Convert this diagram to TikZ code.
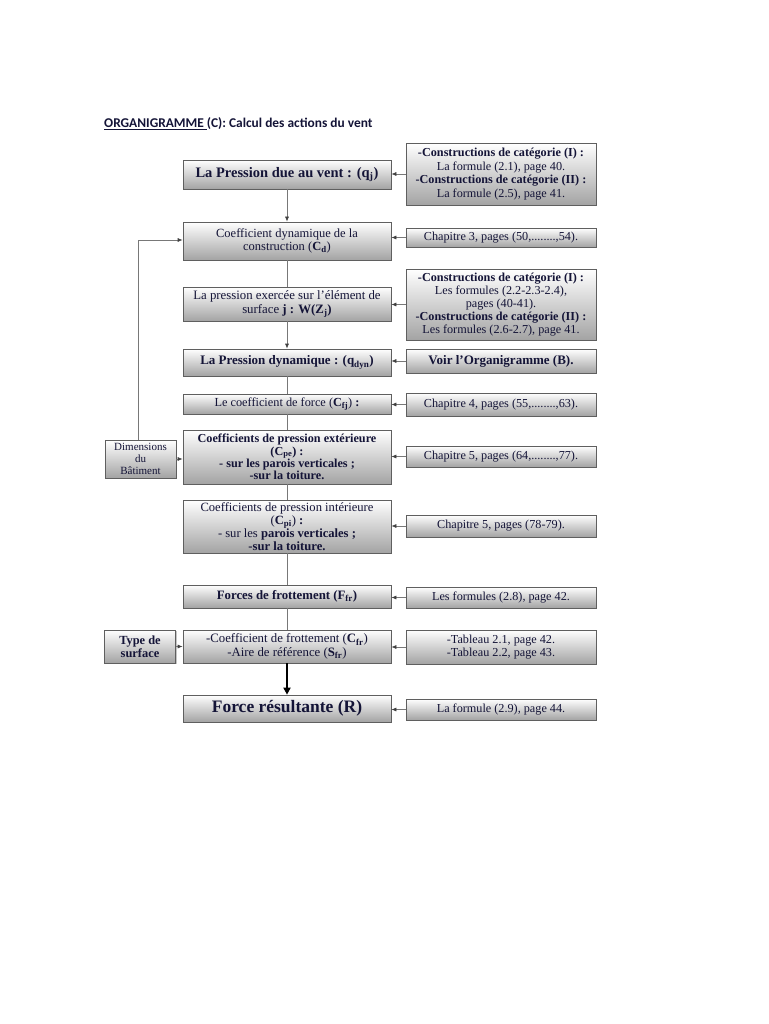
\documentclass[tikz,border=0pt]{standalone}
\usepackage{fontspec}
\setmainfont{Liberation Serif}
\newfontfamily\titlefont{Carlito}
\usetikzlibrary{shadows,arrows.meta}
\definecolor{txt}{RGB}{20,20,55}
\definecolor{bord}{RGB}{95,95,95}
\definecolor{conn}{RGB}{120,120,120}
\tikzset{
  box/.style={draw=bord, line width=0.7pt, top color=white, bottom color=black!36,
    text=txt, align=center, inner sep=1pt,
    drop shadow={shadow xshift=1.3pt, shadow yshift=-1.3pt, fill=black!50, opacity=0.45}},
  mbox/.style={box, minimum width=208pt},
  rbox/.style={box, minimum width=190pt, font=\fontsize{12.2}{13.4}\selectfont},
  lbox/.style={box, minimum width=71pt},
  link/.style={draw=conn, line width=0.7pt},
  arr/.style={link, -{Latex[length=5pt,width=4pt,fill=black!75,color=black!75]}},
  bigarr/.style={draw=black, line width=1.9pt, -{Triangle[length=7pt,width=7pt]}},
}
\begin{document}
\begin{tikzpicture}[x=1pt,y=-1pt]
\useasboundingbox[fill=white] (0,0) rectangle (768,1024);

\node[anchor=west, text=txt, inner sep=0pt, font=\titlefont\bfseries\fontsize{13.4}{15}\selectfont] (title) at (104,124)
  {\underline{ORGANIGRAMME }(C): Calcul des actions du vent};

% main column
\node[mbox, minimum height=29pt, font=\bfseries\fontsize{14.5}{16}\selectfont] (m1) at (287,174.5)
  {La Pression due au vent : (q\textsubscript{j})};
\node[mbox, minimum height=38pt, font=\fontsize{12.5}{13.5}\selectfont] (m2) at (287,241)
  {Coefficient dynamique de la\\construction (\textbf{C\textsubscript{d}})};
\node[mbox, minimum height=34pt, font=\fontsize{12.8}{13.5}\selectfont] (m3) at (287,304)
  {La pression exercée sur l'élément de\\surface \textbf{j : W(Z\textsubscript{j})}};
\node[mbox, minimum height=27pt, font=\bfseries\fontsize{13}{14}\selectfont] (m4) at (287,362.5)
  {La Pression dynamique : (q\textsubscript{dyn})};
\node[mbox, minimum height=20pt, font=\fontsize{12.3}{13}\selectfont] (m5) at (287,404)
  {Le coefficient de force (\textbf{C\textsubscript{fj}}) \textbf{:}};
\node[mbox, minimum height=54pt, font=\bfseries\fontsize{12.2}{12.4}\selectfont] (m6) at (287,457)
  {Coefficients de pression extérieure\\(C\textsubscript{pe}) :\\- sur les parois verticales ;\\-sur la toiture.};
\node[mbox, minimum height=53pt, font=\fontsize{12.6}{12.4}\selectfont] (m7) at (287,526.5)
  {Coefficients de pression intérieure\\(\textbf{C\textsubscript{pi}}) \textbf{:}\\- sur les \textbf{parois verticales ;}\\\textbf{-sur la toiture.}};
\node[mbox, minimum height=23pt, font=\bfseries\fontsize{12.8}{14}\selectfont] (m8) at (287,596.5)
  {Forces de frottement (F\textsubscript{fr})};
\node[mbox, minimum height=33pt, font=\fontsize{12.8}{13.5}\selectfont] (m9) at (287,646.5)
  {-Coefficient de frottement (\textbf{C\textsubscript{fr}})\\-Aire de référence (\textbf{S\textsubscript{fr}})};
\node[mbox, minimum height=27pt, font=\bfseries\fontsize{17.5}{19}\selectfont] (m10) at (287,708.5)
  {Force résultante (R)};

% right column
\node[rbox, minimum height=62pt] (r1) at (501,174)
  {\textbf{-Constructions de catégorie (I) :}\\La formule (2.1), page 40.\\\textbf{-Constructions de catégorie (II) :}\\La formule (2.5), page 41.};
\node[rbox, minimum height=19pt] (r2) at (501,237.5) {Chapitre 3, pages (50,........,54).};
\node[rbox, minimum height=71pt, font=\fontsize{12.2}{13.1}\selectfont] (r3) at (501,304.5)
  {\textbf{-Constructions de catégorie (I) :}\\Les formules (2.2-2.3-2.4),\\pages (40-41).\\\textbf{-Constructions de catégorie (II) :}\\Les formules (2.6-2.7), page 41.};
\node[rbox, minimum height=24pt, font=\bfseries\fontsize{13}{14}\selectfont] (r4) at (501,361) {Voir l'Organigramme (B).};
\node[rbox, minimum height=23pt] (r5) at (501,404.5) {Chapitre 4, pages (55,........,63).};
\node[rbox, minimum height=21pt] (r6) at (501,456.5) {Chapitre 5, pages (64,........,77).};
\node[rbox, minimum height=22pt] (r7) at (501,526) {Chapitre 5, pages (78-79).};
\node[rbox, minimum height=21pt] (r8) at (501,597.5) {Les formules (2.8), page 42.};
\node[rbox, minimum height=34pt] (r9) at (501,647) {-Tableau 2.1, page 42.\\-Tableau 2.2, page 43.};
\node[rbox, minimum height=21pt] (r10) at (501,709.5) {La formule (2.9), page 44.};

% left column
\node[lbox, minimum height=38pt, font=\fontsize{11}{11.6}\selectfont] (l1) at (140.5,459) {Dimensions\\du\\Bâtiment};
\node[lbox, minimum height=33pt, font=\bfseries\fontsize{12.4}{13.2}\selectfont] (l2) at (140,646.5) {Type de\\surface};

% main chain
\draw[arr] (m1.south) -- (m2.north);
\draw[link] (m2.south) -- (m3.north);
\draw[arr] (m3.south) -- (m4.north);
\draw[link] (m4.south) -- (m5.north);
\draw[link] (m5.south) -- (m6.north);
\draw[link] (m6.south) -- (m7.north);
\draw[link] (m7.south) -- (m8.north);
\draw[link] (m8.south) -- (m9.north);
\draw[bigarr] (m9.south) -- (m10.north);

% right inputs
\foreach \i in {1,...,10} {
  \draw[arr] (r\i.west) -- (r\i.west -| m\i.east);
}

% left inputs
\draw[arr] (l1.east) -- (l1.east -| m6.west);
\draw[arr] (l2.east) -- (l2.east -| m9.west);
\coordinate (fb) at (138,240);
\draw[arr] (l1.north -| fb) -- (fb) -- (fb -| m2.west);
\end{tikzpicture}
\end{document}
